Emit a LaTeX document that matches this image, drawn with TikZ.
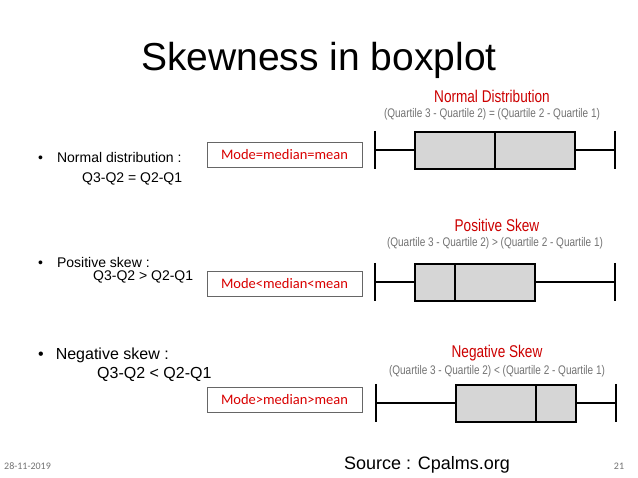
\documentclass[tikz,border=0pt]{standalone}
\usepackage{fontspec}
\setmainfont{Liberation Sans}
\newfontfamily\carlitof{Carlito}
\newfontfamily\narrowf[FakeStretch=0.8]{Liberation Sans}
\begin{document}
\begin{tikzpicture}[x=1pt,y=-1pt,
  bx/.style={draw=black,line width=2pt,fill=black!16},
  wh/.style={line width=2pt},
  ttl/.style={text=red!80!black,font=\narrowf\fontsize{17}{17}\selectfont,inner sep=0},
  sub/.style={text=black!55,font=\narrowf\fontsize{12.5}{12.5}\selectfont,inner sep=0},
  mb/.style={draw=black!60,line width=0.6pt,text=red!85!black,font=\carlitof\fontsize{14.5}{14.5}\selectfont,minimum width=155pt,minimum height=25pt,inner sep=0},
  bl/.style={font=\fontsize{14}{16}\selectfont,align=left,anchor=west,inner sep=0}]
\useasboundingbox (0,0) rectangle (638,478);
\fill[white] (0,0) rectangle (638,478);
\node[font=\fontsize{39}{39}\selectfont,inner sep=0] (title) at (319,60) {Skewness in boxplot};
% box 1
\draw[wh] (375,150) -- (415,150) (575,150) -- (615,150) (375,131) -- (375,169) (615,131) -- (615,169);
\draw[bx] (415,132) rectangle (575,169);
\draw[wh] (495,132) -- (495,169);
\node[ttl] (t1) at (492,96) {Normal Distribution};
\node[sub] (s1) at (492,114) {(Quartile 3 - Quartile 2) = (Quartile 2 - Quartile 1)};
% box 2
\draw[wh] (375,282) -- (415,282) (535,282) -- (615,282) (375,263) -- (375,301) (615,263) -- (615,301);
\draw[bx] (415,264) rectangle (535,301);
\draw[wh] (455,264) -- (455,301);
\node[ttl] (t2) at (497,225) {Positive Skew};
\node[sub] (s2) at (495,243) {(Quartile 3 - Quartile 2) > (Quartile 2 - Quartile 1)};
% box 3
\draw[wh] (376,403) -- (456,403) (576,403) -- (616,403) (376,384) -- (376,422) (616,384) -- (616,422);
\draw[bx] (456,385) rectangle (576,422);
\draw[wh] (536,385) -- (536,422);
\node[ttl] (t3) at (497,353) {Negative Skew};
\node[sub] (s3) at (497,371) {(Quartile 3 - Quartile 2) < (Quartile 2 - Quartile 1)};
% left
\node[bl] (b1) at (38,157) {•\hspace{14pt}Normal distribution :};
\node[bl] (b1b) at (82,179) {Q3-Q2 = Q2-Q1};
\node[bl] (b2) at (38,262) {•\hspace{14pt}Positive skew :};
\node[bl] (b2b) at (93,277) {Q3-Q2 > Q2-Q1};
\node[bl,font=\fontsize{16}{18}\selectfont] (b3) at (38,355) {•\hspace{12pt}Negative skew :};
\node[bl,font=\fontsize{16}{18}\selectfont] (b3b) at (97,374) {Q3-Q2 < Q2-Q1};
\node[mb] (m1) at (284.5,155) {Mode=median=mean};
\node[mb] (m2) at (284.5,284) {Mode<median<mean};
\node[mb] (m3) at (284.5,400) {Mode>median>mean};
% footer
\node[font=\carlitof\fontsize{10}{10}\selectfont,text=black!55,anchor=west,inner sep=0] (d) at (4,466) {28-11-2019};
\node[font=\fontsize{18}{18}\selectfont,inner sep=0] (src) at (427,465) {Source : Cpalms.org};
\node[font=\carlitof\fontsize{10}{10}\selectfont,text=black!55,inner sep=0] (pg) at (619,466) {21};
\end{tikzpicture}
\end{document}
